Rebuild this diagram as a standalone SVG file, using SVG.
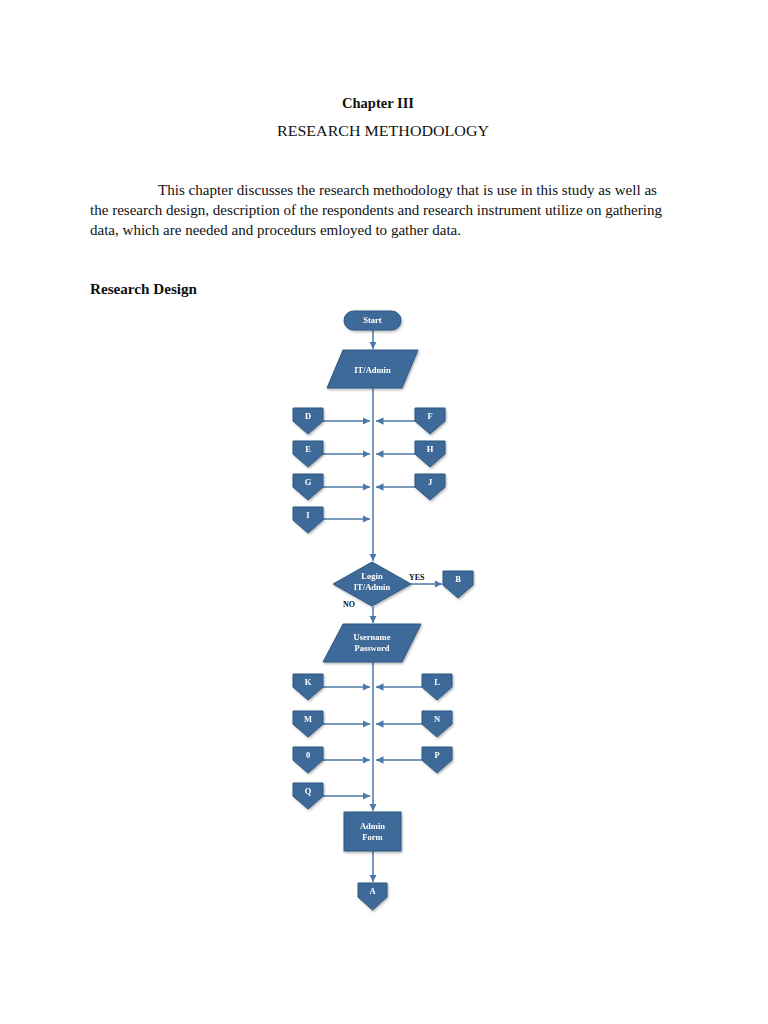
<svg xmlns="http://www.w3.org/2000/svg" width="768" height="1024" viewBox="0 0 768 1024">
<style>
.t{font-family:"Liberation Serif","Times New Roman",serif;fill:#111}
.b{font-weight:bold}
.n{fill:#3D6B99;stroke:#2E5680;stroke-width:1}
.l{font-family:"Liberation Serif","Times New Roman",serif;font-size:8.5px;font-weight:bold;fill:#fff;text-anchor:middle}
.k{font-family:"Liberation Serif","Times New Roman",serif;font-size:8px;font-weight:bold;fill:#111}
.c{stroke:#4A79A8;stroke-width:1.5;fill:none}
</style>
<defs>
<marker id="ah" viewBox="0 0 10 10" refX="10" refY="5" markerWidth="5" markerHeight="5" orient="auto">
<path d="M0,0 L10,5 L0,10 z" fill="#4A79A8"/>
</marker>
<filter id="sh" x="-20%" y="-20%" width="150%" height="150%">
<feDropShadow dx="1" dy="1.5" stdDeviation="1" flood-color="#000" flood-opacity="0.3"/>
</filter>
</defs>
<rect width="768" height="1024" fill="#fff"/>
<text class="t b" x="378" y="108" font-size="14.5" text-anchor="middle">Chapter III</text>
<text class="t" x="383" y="136" font-size="14.5" text-anchor="middle" textLength="212" lengthAdjust="spacingAndGlyphs">RESEARCH METHODOLOGY</text>
<text class="t" x="158" y="195" font-size="14.5" textLength="499" lengthAdjust="spacingAndGlyphs">This chapter discusses the research methodology that is use in this study as well as</text>
<text class="t" x="90" y="215" font-size="14.5" textLength="572" lengthAdjust="spacingAndGlyphs">the research design, description of the respondents and research instrument utilize on gathering</text>
<text class="t" x="90" y="235" font-size="14.5" textLength="371" lengthAdjust="spacingAndGlyphs">data, which are needed and procedurs emloyed to gather data.</text>
<text class="t b" x="90" y="294" font-size="14.5" textLength="107" lengthAdjust="spacingAndGlyphs">Research Design</text>

<g id="connectors">
<line class="c" x1="373" y1="330" x2="373" y2="349" marker-end="url(#ah)"/>
<line class="c" x1="373" y1="388" x2="373" y2="561" marker-end="url(#ah)"/>
<line class="c" x1="323" y1="421" x2="370" y2="421" marker-end="url(#ah)"/>
<line class="c" x1="415" y1="421" x2="376" y2="421" marker-end="url(#ah)"/>
<line class="c" x1="323" y1="454" x2="370" y2="454" marker-end="url(#ah)"/>
<line class="c" x1="415" y1="454" x2="376" y2="454" marker-end="url(#ah)"/>
<line class="c" x1="323" y1="487" x2="370" y2="487" marker-end="url(#ah)"/>
<line class="c" x1="415" y1="487" x2="376" y2="487" marker-end="url(#ah)"/>
<line class="c" x1="323" y1="519" x2="370" y2="519" marker-end="url(#ah)"/>
<line class="c" x1="411" y1="584" x2="442" y2="584" marker-end="url(#ah)"/>
<line class="c" x1="373" y1="607" x2="373" y2="623" marker-end="url(#ah)"/>
<line class="c" x1="373" y1="662" x2="373" y2="811" marker-end="url(#ah)"/>
<line class="c" x1="323" y1="687" x2="370" y2="687" marker-end="url(#ah)"/>
<line class="c" x1="422" y1="687" x2="376" y2="687" marker-end="url(#ah)"/>
<line class="c" x1="323" y1="724" x2="370" y2="724" marker-end="url(#ah)"/>
<line class="c" x1="422" y1="724" x2="376" y2="724" marker-end="url(#ah)"/>
<line class="c" x1="323" y1="760" x2="370" y2="760" marker-end="url(#ah)"/>
<line class="c" x1="422" y1="760" x2="376" y2="760" marker-end="url(#ah)"/>
<line class="c" x1="323" y1="796" x2="370" y2="796" marker-end="url(#ah)"/>
<line class="c" x1="373" y1="851" x2="373" y2="882" marker-end="url(#ah)"/>
<text class="k" x="409" y="580">YES</text>
<text class="k" x="343" y="607">NO</text>
</g>

<g id="start" filter="url(#sh)"><rect class="n" x="344" y="311" width="57" height="19" rx="9.5"/><text class="l" x="372.5" y="323">Start</text></g>
<g id="itadmin" filter="url(#sh)"><path class="n" d="M343,350 L418,350 L402,388 L327,388 Z"/><text class="l" x="372.5" y="373">IT/Admin</text></g>

<g id="D" filter="url(#sh)"><path class="n" d="M293,408 h30 v13 l-15,13 l-15,-13 z"/><text class="l" x="308" y="419">D</text></g>
<g id="F" filter="url(#sh)"><path class="n" d="M415,408 h30 v13 l-15,13 l-15,-13 z"/><text class="l" x="430" y="419">F</text></g>
<g id="E" filter="url(#sh)"><path class="n" d="M293,441 h30 v13 l-15,13 l-15,-13 z"/><text class="l" x="308" y="452">E</text></g>
<g id="H" filter="url(#sh)"><path class="n" d="M415,441 h30 v13 l-15,13 l-15,-13 z"/><text class="l" x="430" y="452">H</text></g>
<g id="G" filter="url(#sh)"><path class="n" d="M293,474 h30 v13 l-15,13 l-15,-13 z"/><text class="l" x="308" y="485">G</text></g>
<g id="J" filter="url(#sh)"><path class="n" d="M415,474 h30 v13 l-15,13 l-15,-13 z"/><text class="l" x="430" y="485">J</text></g>
<g id="I" filter="url(#sh)"><path class="n" d="M293,507 h30 v13 l-15,13 l-15,-13 z"/><text class="l" x="308" y="518">I</text></g>

<g id="login" filter="url(#sh)"><path class="n" d="M372,562 L411,584 L372,606 L333,584 Z"/><text class="l" x="372" y="579">Login</text><text class="l" x="372" y="590">IT/Admin</text></g>
<g id="B" filter="url(#sh)"><path class="n" d="M443,571 h30 v14 l-15,13 l-15,-13 z"/><text class="l" x="458" y="582">B</text></g>

<g id="userpass" filter="url(#sh)"><path class="n" d="M343,624 L421,624 L402,662 L323,662 Z"/><text class="l" x="372" y="640">Username</text><text class="l" x="372" y="651">Password</text></g>

<g id="K" filter="url(#sh)"><path class="n" d="M293,674 h30 v13 l-15,13 l-15,-13 z"/><text class="l" x="308" y="685">K</text></g>
<g id="L" filter="url(#sh)"><path class="n" d="M422,674 h30 v13 l-15,13 l-15,-13 z"/><text class="l" x="437" y="685">L</text></g>
<g id="M" filter="url(#sh)"><path class="n" d="M293,711 h30 v13 l-15,13 l-15,-13 z"/><text class="l" x="308" y="722">M</text></g>
<g id="N" filter="url(#sh)"><path class="n" d="M422,711 h30 v13 l-15,13 l-15,-13 z"/><text class="l" x="437" y="722">N</text></g>
<g id="O" filter="url(#sh)"><path class="n" d="M293,747 h30 v13 l-15,13 l-15,-13 z"/><text class="l" x="308" y="758">0</text></g>
<g id="P" filter="url(#sh)"><path class="n" d="M422,747 h30 v13 l-15,13 l-15,-13 z"/><text class="l" x="437" y="758">P</text></g>
<g id="Q" filter="url(#sh)"><path class="n" d="M293,783 h30 v13 l-15,13 l-15,-13 z"/><text class="l" x="308" y="794">Q</text></g>

<g id="adminform" filter="url(#sh)"><rect class="n" x="344" y="812" width="57" height="39"/><text class="l" x="372.5" y="829">Admin</text><text class="l" x="372.5" y="840">Form</text></g>
<g id="A" filter="url(#sh)"><path class="n" d="M358,883 h29 v14 l-14.5,13 l-14.5,-13 z"/><text class="l" x="372.5" y="894">A</text></g>
</svg>
